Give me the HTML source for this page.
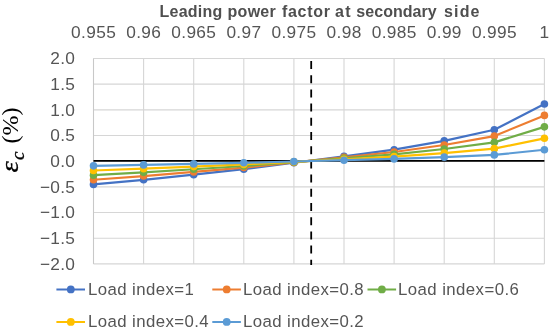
<!DOCTYPE html>
<html><head><meta charset="utf-8"><title>chart</title><style>html,body{margin:0;padding:0;background:#fff}svg{display:block}</style></head><body>
<svg width="550" height="330" viewBox="0 0 550 330">
<rect width="550" height="330" fill="#fff"/>
<path d="M93.50 58.50H544.40M93.50 84.17H544.40M93.50 109.85H544.40M93.50 135.52H544.40M93.50 161.20H544.40M93.50 186.88H544.40M93.50 212.55H544.40M93.50 238.22H544.40M93.50 263.90H544.40M93.50 58.50V263.90M143.60 58.50V263.90M193.70 58.50V263.90M243.80 58.50V263.90M293.90 58.50V263.90M344.00 58.50V263.90M394.10 58.50V263.90M444.20 58.50V263.90M494.30 58.50V263.90M544.40 58.50V263.90" stroke="#D6D6D6" stroke-width="1.1" fill="none"/>
<path d="M93.50 58.50V263.90" stroke="#C8C8C8" stroke-width="1" fill="none"/>
<path d="M93.50 160.85H544.40" stroke="#000" stroke-width="1.6" fill="none"/>
<path d="M311.2 61V265" stroke="#000" stroke-width="1.8" stroke-dasharray="8 6.2" fill="none"/>
<path d="M93.50 184.41L143.60 179.79L193.70 174.65L243.80 169.16L293.90 162.74L344.00 156.32L394.10 149.70L444.20 140.92L494.30 129.77L544.40 103.94" stroke="#4472C4" stroke-width="2.2" fill="none" stroke-linejoin="round" stroke-linecap="round"/>
<g fill="#4472C4"><circle cx="93.50" cy="184.41" r="3.8"/><circle cx="143.60" cy="179.79" r="3.8"/><circle cx="193.70" cy="174.65" r="3.8"/><circle cx="243.80" cy="169.16" r="3.8"/><circle cx="293.90" cy="162.74" r="3.8"/><circle cx="344.00" cy="156.32" r="3.8"/><circle cx="394.10" cy="149.70" r="3.8"/><circle cx="444.20" cy="140.92" r="3.8"/><circle cx="494.30" cy="129.77" r="3.8"/><circle cx="544.40" cy="103.94" r="3.8"/></g>
<path d="M93.50 179.77L143.60 176.07L193.70 171.96L243.80 167.57L293.90 162.43L344.00 157.30L394.10 152.00L444.20 144.97L494.30 136.06L544.40 115.40" stroke="#ED7D31" stroke-width="2.2" fill="none" stroke-linejoin="round" stroke-linecap="round"/>
<g fill="#ED7D31"><circle cx="93.50" cy="179.77" r="3.8"/><circle cx="143.60" cy="176.07" r="3.8"/><circle cx="193.70" cy="171.96" r="3.8"/><circle cx="243.80" cy="167.57" r="3.8"/><circle cx="293.90" cy="162.43" r="3.8"/><circle cx="344.00" cy="157.30" r="3.8"/><circle cx="394.10" cy="152.00" r="3.8"/><circle cx="444.20" cy="144.97" r="3.8"/><circle cx="494.30" cy="136.06" r="3.8"/><circle cx="544.40" cy="115.40" r="3.8"/></g>
<path d="M93.50 175.13L143.60 172.35L193.70 169.27L243.80 165.98L293.90 162.12L344.00 158.27L394.10 154.30L444.20 149.03L494.30 142.34L544.40 126.85" stroke="#70AD47" stroke-width="2.2" fill="none" stroke-linejoin="round" stroke-linecap="round"/>
<g fill="#70AD47"><circle cx="93.50" cy="175.13" r="3.8"/><circle cx="143.60" cy="172.35" r="3.8"/><circle cx="193.70" cy="169.27" r="3.8"/><circle cx="243.80" cy="165.98" r="3.8"/><circle cx="293.90" cy="162.12" r="3.8"/><circle cx="344.00" cy="158.27" r="3.8"/><circle cx="394.10" cy="154.30" r="3.8"/><circle cx="444.20" cy="149.03" r="3.8"/><circle cx="494.30" cy="142.34" r="3.8"/><circle cx="544.40" cy="126.85" r="3.8"/></g>
<path d="M93.50 170.48L143.60 168.64L193.70 166.58L243.80 164.38L293.90 161.82L344.00 159.25L394.10 156.60L444.20 153.09L494.30 148.63L544.40 138.30" stroke="#FFC000" stroke-width="2.2" fill="none" stroke-linejoin="round" stroke-linecap="round"/>
<g fill="#FFC000"><circle cx="93.50" cy="170.48" r="3.8"/><circle cx="143.60" cy="168.64" r="3.8"/><circle cx="193.70" cy="166.58" r="3.8"/><circle cx="243.80" cy="164.38" r="3.8"/><circle cx="293.90" cy="161.82" r="3.8"/><circle cx="344.00" cy="159.25" r="3.8"/><circle cx="394.10" cy="156.60" r="3.8"/><circle cx="444.20" cy="153.09" r="3.8"/><circle cx="494.30" cy="148.63" r="3.8"/><circle cx="544.40" cy="138.30" r="3.8"/></g>
<path d="M93.50 165.84L143.60 164.92L193.70 163.89L243.80 162.79L293.90 161.51L344.00 160.22L394.10 158.90L444.20 157.14L494.30 154.91L544.40 149.75" stroke="#5B9BD5" stroke-width="2.2" fill="none" stroke-linejoin="round" stroke-linecap="round"/>
<g fill="#5B9BD5"><circle cx="93.50" cy="165.84" r="3.8"/><circle cx="143.60" cy="164.92" r="3.8"/><circle cx="193.70" cy="163.89" r="3.8"/><circle cx="243.80" cy="162.79" r="3.8"/><circle cx="293.90" cy="161.51" r="3.8"/><circle cx="344.00" cy="160.22" r="3.8"/><circle cx="394.10" cy="158.90" r="3.8"/><circle cx="444.20" cy="157.14" r="3.8"/><circle cx="494.30" cy="154.91" r="3.8"/><circle cx="544.40" cy="149.75" r="3.8"/></g>
<g font-family="'Liberation Sans', sans-serif" fill="#555">
<g font-size="16" font-weight="bold" fill="#4f4f4f">
<text x="159.50" y="16.5" textLength="62.80" lengthAdjust="spacing">Leading</text>
<text x="227.60" y="16.5" textLength="48.10" lengthAdjust="spacing">power</text>
<text x="281.90" y="16.5" textLength="48.00" lengthAdjust="spacing">factor</text>
<text x="335.10" y="16.5" textLength="15.60" lengthAdjust="spacing">at</text>
<text x="356.30" y="16.5" textLength="80.40" lengthAdjust="spacing">secondary</text>
<text x="443.90" y="16.5" textLength="35.60" lengthAdjust="spacing">side</text>
</g>
<g font-size="17.3" letter-spacing="0.35" text-anchor="middle">
<text x="93.60" y="37.95">0.955</text>
<text x="143.70" y="37.95">0.96</text>
<text x="193.80" y="37.95">0.965</text>
<text x="243.90" y="37.95">0.97</text>
<text x="294.00" y="37.95">0.975</text>
<text x="344.10" y="37.95">0.98</text>
<text x="394.20" y="37.95">0.985</text>
<text x="444.30" y="37.95">0.99</text>
<text x="494.40" y="37.95">0.995</text>
<text x="544.50" y="37.95">1</text>
</g>
<g font-size="17.3" letter-spacing="0.3" text-anchor="end">
<text x="75.25" y="64.30">2.0</text>
<text x="75.25" y="89.97">1.5</text>
<text x="75.25" y="115.65">1.0</text>
<text x="75.25" y="141.32">0.5</text>
<text x="75.25" y="167.00">0.0</text>
<text x="75.25" y="192.68">−0.5</text>
<text x="75.25" y="218.35">−1.0</text>
<text x="75.25" y="244.02">−1.5</text>
<text x="75.25" y="269.70">−2.0</text>
</g>
<g font-size="16.8" letter-spacing="0.42">
<path d="M56.4 289.5h28.6" stroke="#4472C4" stroke-width="2"/><circle cx="70.8" cy="289.4" r="3.9" fill="#4472C4"/>
<text x="87.9" y="294.9">Load index=1</text>
<path d="M212.3 289.5h28.6" stroke="#ED7D31" stroke-width="2"/><circle cx="226.7" cy="289.4" r="3.9" fill="#ED7D31"/>
<text x="242.9" y="294.9">Load index=0.8</text>
<path d="M367.5 289.5h28.6" stroke="#70AD47" stroke-width="2"/><circle cx="381.9" cy="289.4" r="3.9" fill="#70AD47"/>
<text x="398.1" y="294.9">Load index=0.6</text>
<path d="M56.4 322.0h28.6" stroke="#FFC000" stroke-width="2"/><circle cx="70.8" cy="321.9" r="3.9" fill="#FFC000"/>
<text x="87.9" y="327.4">Load index=0.4</text>
<path d="M212.3 322.0h28.6" stroke="#5B9BD5" stroke-width="2"/><circle cx="226.7" cy="321.9" r="3.9" fill="#5B9BD5"/>
<text x="242.9" y="327.4">Load index=0.2</text>
</g>
</g>
<g transform="translate(18.2 172.5) rotate(-90)" font-family="'Liberation Serif', serif" fill="#000">
<text x="0" y="0" font-size="24.8" font-style="italic" transform="scale(1.16 1)" stroke="#000" stroke-width="0.3">ε</text>
<text x="12.5" y="5.8" font-size="19" font-style="italic" stroke="#000" stroke-width="0.3">c</text>
<text x="29" y="0" font-size="24">(%)</text>
</g>
</svg>
</body></html>
